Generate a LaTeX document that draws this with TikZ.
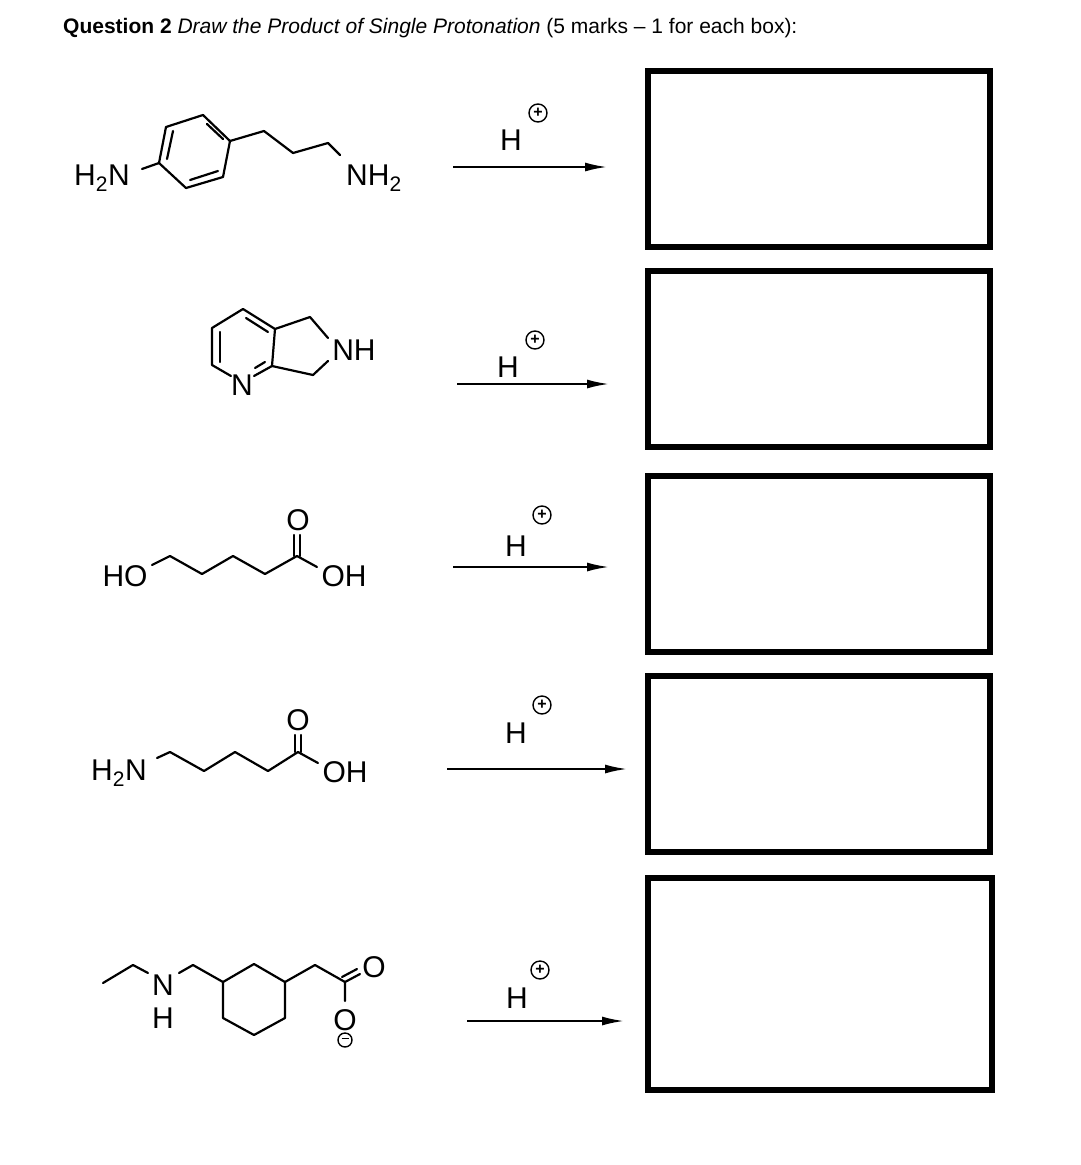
\documentclass[tikz,border=0pt]{standalone}
\usepackage{fontspec}
\usetikzlibrary{arrows.meta}
\setmainfont{Liberation Sans}
\begin{document}
\begin{tikzpicture}[x=1pt,y=-1pt,
  bond/.style={line width=2.2pt,line cap=round,line join=round},
  atom/.style={inner sep=0pt,font=\fontsize{30}{30}\selectfont},
  box/.style={draw,line width=6pt},
  arr/.style={line width=2pt,-{Latex[length=22pt,width=9pt]}},
  hlab/.style={inner sep=0pt,font=\fontsize{30}{30}\selectfont},
  chg/.style={circle,draw,line width=1.4pt,minimum size=18pt,inner sep=0pt,font=\bfseries\fontsize{16}{16}\selectfont}]
\useasboundingbox (0,0) rectangle (1080,1165);
\node[anchor=west,inner sep=0pt,font=\fontsize{21}{21}\selectfont] (title) at (63,28) {\textbf{Question 2} \textit{Draw the Product of Single Protonation} (5 marks -- 1 for each box):};
% boxes
\node[box,minimum width=342pt,minimum height=176pt] (b1) at (819,159) {};
\node[box,minimum width=342pt,minimum height=176pt] (b2) at (819,359) {};
\node[box,minimum width=342pt,minimum height=176pt] (b3) at (819,564) {};
\node[box,minimum width=342pt,minimum height=176pt] (b4) at (819,764) {};
\node[box,minimum width=344pt,minimum height=212pt] (b5) at (820,984) {};
% arrows and H+
\foreach \i/\xa/\xb/\ya/\hx/\hy/\px/\py in {1/453/607/167/511/140/538/113, 2/457/609/384/508/367/535/340, 3/453/609/567/516/546/542/515, 4/447/627/769/516/733/542/705, 5/467/624/1021/517/998/540/970}{
  \coordinate (s\i) at (\xa,\ya); \coordinate (e\i) at (\xb,\ya);
  \draw[arr] (s\i) -- (e\i);
  \node[hlab] (h\i) at (\hx,\hy) {H};
  \node[chg] (p\i) at (\px,\py) {+};
}
% molecule 1
\node[atom] (n1a) at (102,178) {H\textsubscript{2}N};
\node[atom] (n1b) at (374,178) {NH\textsubscript{2}};
\draw[bond] (142,169) -- (159,163);
\draw[bond] (159,163) -- (166,127) -- (203,115) -- (230,141) -- (223,177) -- (186,188) -- cycle;
\draw[bond] (173,131) -- (167,159);
\draw[bond] (207,124) -- (223,139);
\draw[bond] (218,171) -- (190,180);
\draw[bond] (230,141) -- (264,131) -- (293,153) -- (328,143) -- (340,155);
% molecule 2
\node[atom] (n2a) at (242,385) {N};
\node[atom] (n2b) at (354,350) {NH};
\draw[bond] (231,376) -- (212,365) -- (212,328) -- (243,309) -- (275,329) -- (272,366) -- (254,376);
\draw[bond] (220,362) -- (220,332);
\draw[bond] (246,318) -- (268,332);
\draw[bond] (265,362) -- (255,368);
\draw[bond] (275,329) -- (310,317) -- (328,338);
\draw[bond] (272,366) -- (313,375) -- (328,361);
% molecule 3
\node[atom] (o3a) at (125,576) {HO};
\node[atom] (o3b) at (298,520) {O};
\node[atom] (o3c) at (344,576) {OH};
\draw[bond] (152,565) -- (170,556) -- (202,574) -- (233,556) -- (265,574) -- (297,556) -- (317,567);
\draw[bond] (294,556) -- (294,535);
\draw[bond] (300,556) -- (300,535);
% molecule 4
\node[atom] (n4a) at (119,773) {H\textsubscript{2}N};
\node[atom] (o4b) at (298,720) {O};
\node[atom] (o4c) at (345,772) {OH};
\draw[bond] (157,758) -- (170,752) -- (204,771) -- (235,752) -- (268,771) -- (298,752) -- (318,763);
\draw[bond] (295,752) -- (295,735);
\draw[bond] (301,752) -- (301,735);
% molecule 5
\node[atom] (n5) at (163,985) {N};
\node[atom] (h5) at (163,1018) {H};
\node[atom] (o5a) at (374,967) {O};
\node[atom] (o5b) at (345,1020) {O};
\node[chg,minimum size=14pt] (m5) at (345,1040) {\rule[0.3ex]{7pt}{1.4pt}};
\draw[bond] (103,983) -- (133,965) -- (148,973);
\draw[bond] (179,973) -- (193,965) -- (223,982);
\draw[bond] (223,982) -- (254,964) -- (285,982) -- (285,1018) -- (254,1035) -- (223,1018) -- cycle;
\draw[bond] (285,982) -- (315,965) -- (345,982) -- (345,1001);
\draw[bond] (345,982) -- (360,974);
\draw[bond] (342,977) -- (357,969);
\end{tikzpicture}
\end{document}
